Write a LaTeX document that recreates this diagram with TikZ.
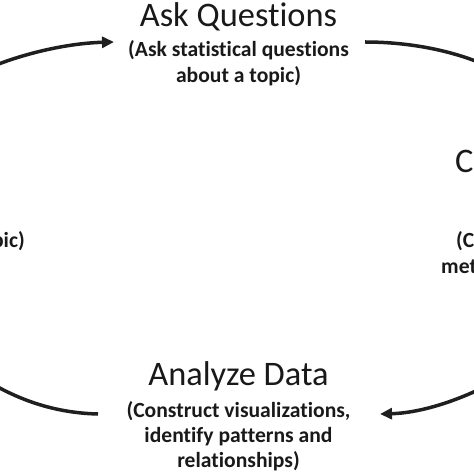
\documentclass[tikz,border=0pt]{standalone}
\usepackage{fontspec}
\setmainfont{Carlito}[Ligatures={NoCommon},RawFeature={-liga;-clig;-dlig}]
\usetikzlibrary{arrows.meta}
\begin{document}
\begin{tikzpicture}[x=1bp,y=-1bp,
  title/.style={inner sep=0pt,anchor=base,text=black!90,font=\fontsize{34.4bp}{40bp}\selectfont},
  subline/.style={inner sep=0pt,anchor=base,text=black!90,font=\bfseries\fontsize{21.6bp}{26bp}\selectfont},
  cycle/.style={line width=3.5bp,draw=black!88,line cap=butt},
  tip/.style={-{Triangle[length=12bp,width=11bp]}}]
\useasboundingbox (0,0) rectangle (474,474);
% top stage
\node[title] (askT) at (238.5,27) {Ask Questions};
\node[subline] (askS1) at (238.5,57) {(Ask statistical questions};
\node[subline] (askS2) at (238.5,83) {about a topic)};
% bottom stage
\node[title] (anaT) at (238.5,385) {Analyze Data};
\node[subline] (anaS1) at (238.5,417) {(Construct visualizations,};
\node[subline] (anaS2) at (238.5,442) {identify patterns and};
\node[subline] (anaS3) at (238.5,467) {relationships)};
% right stage (cut off)
\node[title,anchor=base west] (colT) at (455,173) {C};
\node[subline,anchor=base west] (colS1) at (456,247) {(C};
\node[subline,anchor=base west] (colS2) at (441,273) {met};
% left stage (cut off)
\node[subline,anchor=base east] (intS) at (25,247) {pic)};
% connector ends
\coordinate (tlA) at (-4,65);
\coordinate (tlB) at (114,42);
\coordinate (trA) at (365,42);
\coordinate (trB) at (478,62);
\coordinate (brA) at (478,390);
\coordinate (brB) at (380,414);
\coordinate (blA) at (98,414);
\coordinate (blB) at (-4,386);
\draw[cycle,tip] (tlA) .. controls (35,50) and (75,43) .. (tlB);
\draw[cycle] (trA) .. controls (405,42) and (445,49) .. (trB);
\draw[cycle,tip] (brA) .. controls (450,403) and (418,413) .. (brB);
\draw[cycle] (blA) .. controls (58,413) and (25,402) .. (blB);
\end{tikzpicture}
\end{document}
